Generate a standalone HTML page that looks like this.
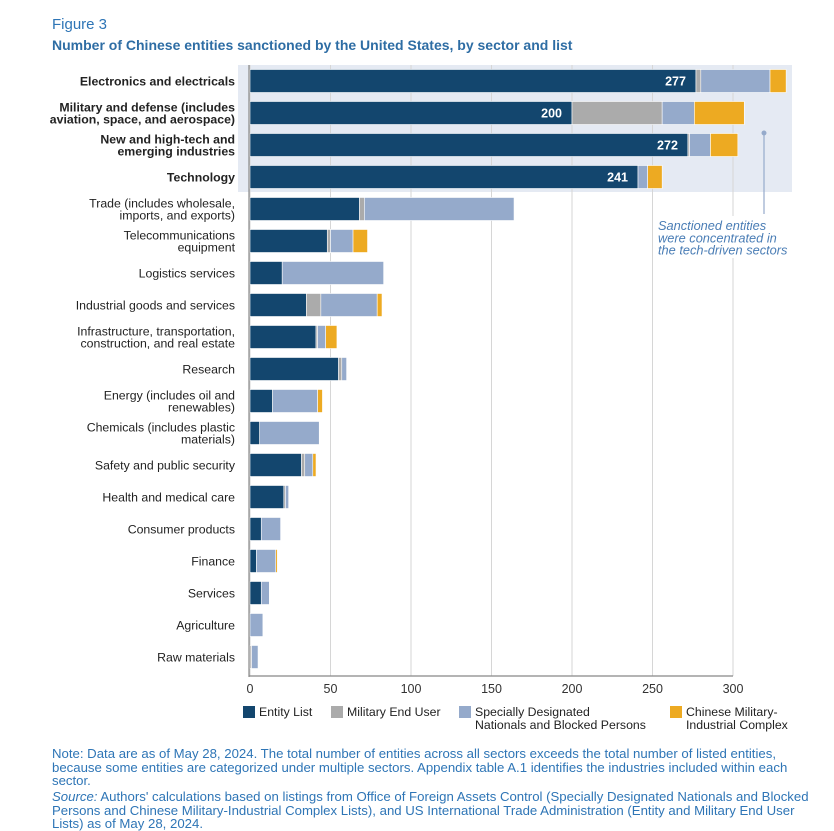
<!DOCTYPE html>
<html><head><meta charset="utf-8"><style>
body{margin:0;background:#fff;font-family:"Liberation Sans",sans-serif;}
#wrap{position:relative;width:834px;height:831px;overflow:hidden;}
.t{position:absolute;white-space:nowrap;}
</style></head><body>
<div id="wrap">
<div class="t" style="left:52px;top:16px;font-size:15px;color:#2e75b6;">Figure 3</div>
<div class="t" style="left:52px;top:37px;font-size:14px;font-weight:bold;color:#2e6da4;">Number of Chinese entities sanctioned by the United States, by sector and list</div>
<svg id="chart" width="834" height="740" style="position:absolute;left:0;top:0"></svg>
<div class="t" style="left:52px;top:747px;font-size:13.2px;line-height:13.5px;color:#2e75b6;">Note: Data are as of May 28, 2024. The total number of entities across all sectors exceeds the total number of listed entities,<br>because some entities are categorized under multiple sectors. Appendix table A.1 identifies the industries included within each<br>sector.</div>
<div class="t" style="left:52px;top:790px;font-size:13.2px;line-height:13.5px;color:#2e75b6;"><i>Source:</i> Authors' calculations based on listings from Office of Foreign Assets Control (Specially Designated Nationals and Blocked<br>Persons and Chinese Military-Industrial Complex Lists), and US International Trade Administration (Entity and Military End User<br>Lists) as of May 28, 2024.</div>
</div>
<script>
const categories=[["Electronics and electricals"],["Military and defense (includes","aviation, space, and aerospace)"],["New and high-tech and","emerging industries"],["Technology"],["Trade (includes wholesale,","imports, and exports)"],["Telecommunications","equipment"],["Logistics services"],["Industrial goods and services"],["Infrastructure, transportation,","construction, and real estate"],["Research"],["Energy (includes oil and","renewables)"],["Chemicals (includes plastic","materials)"],["Safety and public security"],["Health and medical care"],["Consumer products"],["Finance"],["Services"],["Agriculture"],["Raw materials"]];
const entityList=[277,200,272,241,68,48,20,35,41,55,14,6,32,21,7,4,7,0,0];
const militaryEndUser=[3,56,1,0,3,2,0,9,1,2,0,0,2,1,0,0,0,0,1];
const sdn=[43,20,13,6,93,14,63,35,5,3,28,37,5,2,12,12,5,8,4];
const cmic=[10,31,17,9,0,9,0,3,7,0,3,0,2,0,0,1,0,0,0];
const ticks=[0,50,100,150,200,250,300];
const boldCount=4;
const NS="http://www.w3.org/2000/svg";
const svg=document.getElementById('chart');
const x0=250,scale=1.61,y0=81,step=32,bh=23;
const xs=v=>x0+v*scale, ys=i=>y0+i*step;
function mk(tag,attrs,parent){const e=document.createElementNS(NS,tag);for(const k in attrs)e.setAttribute(k,attrs[k]);(parent||svg).appendChild(e);return e;}
const hl=mk('rect',{x:238,y:65,width:554,height:127,fill:'#e5eaf3'});


ticks.forEach(t=>{
 const g=mk('line',{x1:xs(t),x2:xs(t),y1:65,y2:676,stroke:'#d6d6d6','stroke-width':1});
 
 
 const tl=mk('text',{x:xs(t),y:693,'text-anchor':'middle','font-size':12.5,fill:'#333','font-family':'Liberation Sans'});
 tl.textContent=t;
 
 
});
const colors=['#13466e','#ababab','#95aacb','#edaa22'];
const series=[entityList,militaryEndUser,sdn,cmic];
const segNames=['entity-list','military-end-user','sdn','cmic'];
categories.forEach((c,i)=>{
 const yc=ys(i);let acc=0;
 series.forEach((s,k)=>{
  const v=s[i];if(v<=0)return;
  const r=mk('rect',{x:xs(acc),y:yc-bh/2,width:v*scale,height:bh,fill:colors[k],stroke:'#fff','stroke-width':0.6});
  
  
  acc+=v;
 });
 if(i<boldCount){
  const vl=mk('text',{x:xs(entityList[i])-10,y:yc+4.5,'text-anchor':'end','font-size':12.5,'font-weight':'bold',fill:'#fff','font-family':'Liberation Sans'});
  vl.textContent=entityList[i];
  
  
 }
 const lines=c;const lh=12;
 lines.forEach((ln,j)=>{
  const t=mk('text',{x:235,y:yc+4.5+(j-(lines.length-1)/2)*lh,'text-anchor':'end','font-size':12.3,'font-weight':i<boldCount?'bold':'normal',fill:'#222','font-family':'Liberation Sans'});
  t.textContent=ln;
  
  
 });
});
const ya=mk('line',{x1:249,x2:249,y1:65,y2:677,stroke:'#888','stroke-width':1.2});


const xa=mk('line',{x1:249,x2:xs(300),y1:676,y2:676,stroke:'#888','stroke-width':1.2});


const al=mk('line',{x1:764,x2:764,y1:133,y2:214,stroke:'#95aacb','stroke-width':1.2});


const ad=mk('circle',{cx:764,cy:133,r:2.5,fill:'#95aacb'});


const wb=mk('rect',{x:655,y:216,width:142,height:42,fill:'#fff'});


['Sanctioned entities','were concentrated in','the tech-driven sectors'].forEach((s,j)=>{
 const t=mk('text',{x:658,y:230+j*12.3,'font-size':12.8,'font-style':'italic',fill:'#4a7db5','font-family':'Liberation Sans'});
 t.textContent=s;
 
 
});
const legend=[['Entity List'],['Military End User'],['Specially Designated','Nationals and Blocked Persons'],['Chinese Military-','Industrial Complex']];
const lx=[243,331,459,670];
legend.forEach((l,k)=>{
 const sw=mk('rect',{x:lx[k],y:706,width:12,height:12,fill:colors[k]});
 
 
 l.forEach((s,j)=>{
  const t=mk('text',{x:lx[k]+16,y:716+j*13,'font-size':12.3,fill:'#222','font-family':'Liberation Sans'});
  t.textContent=s;
  
  
 });
});
</script>
</body></html>
